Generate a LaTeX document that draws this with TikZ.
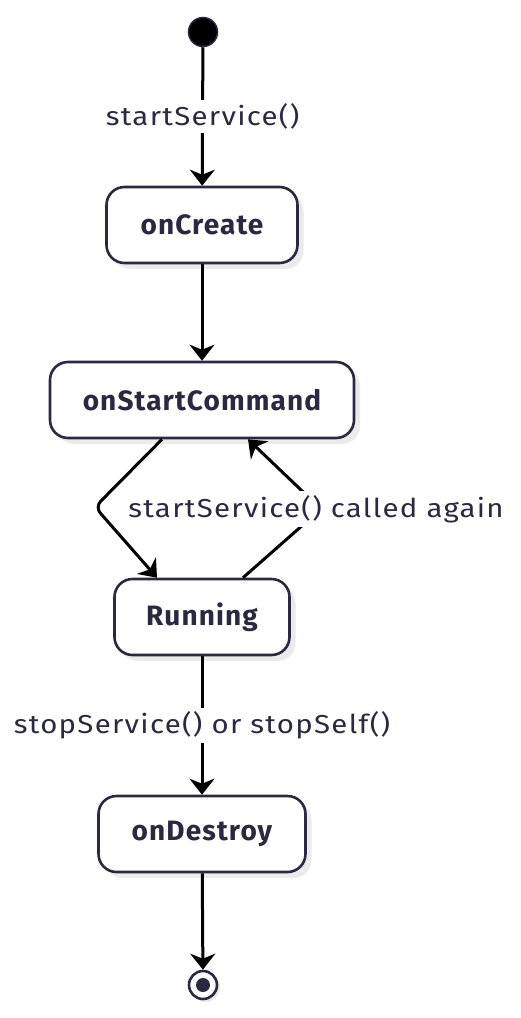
\documentclass[tikz,border=0pt]{standalone}
\usepackage{fontspec}
\setmainfont{Fira Sans}
\newfontfamily\lblfont{Fira Sans}[FakeStretch=1.13,LetterSpace=5]
\newfontfamily\statefont{Fira Sans}[LetterSpace=4]
\usepackage{xcolor}
\usetikzlibrary{arrows.meta,shadows}

\definecolor{ink}{HTML}{2A2940}

\begin{document}
\begin{tikzpicture}[x=1pt,y=-1pt,
  state/.style={draw=ink,line width=2.6pt,rounded corners=18pt,fill=white,text=ink,
    font=\statefont\fontsize{28}{32}\selectfont\bfseries,minimum height=76pt,
    drop shadow={shadow xshift=6pt,shadow yshift=-6pt,fill=black!8,opacity=1}},
  trans/.style={line width=3pt,-{Stealth[length=16pt,width=25pt,inset=5pt]}},
  lbl/.style={fill=white,text=ink,font=\lblfont\fontsize{26}{30}\selectfont,inner sep=4pt}]
\useasboundingbox (0,0) rectangle (520,1018);

% States
\node[circle,fill=black,draw=ink,line width=1.5pt,minimum size=29pt,inner sep=0pt] (init) at (203,32) {};
\node[state,minimum width=191pt] (create) at (202,225) {onCreate};
\node[state,minimum width=304pt] (start) at (202,400) {onStartCommand};
\node[state,minimum width=175pt] (run) at (202,617) {Running};
\node[state,minimum width=207pt] (destroy) at (202,834) {onDestroy};
\node[circle,draw=ink,line width=2.6pt,fill=white,minimum size=28pt,inner sep=0pt,
  drop shadow={shadow xshift=3pt,shadow yshift=-3pt,fill=black!8,opacity=1}] (final) at (203,985) {};
\node[circle,fill=ink,minimum size=14pt,inner sep=0pt] (finaldot) at (final.center) {};

% Bends
\coordinate (bendL) at (95,507);
\coordinate (bendR) at (321,509);

% Transitions
\draw[trans] (init) -- node[lbl] {startService()} (create);
\draw[trans] (create) -- (start);
\draw[trans,rounded corners=8pt] ([xshift=-40pt]start.south) -- (bendL) -- ([xshift=-45pt]run.north);
\draw[trans] ([xshift=41pt]run.north) -- (bendR) node[lbl,xshift=-5pt] {startService() called again} -- ([xshift=46pt]start.south);
\draw[trans] (run) -- node[lbl] {stopService() or stopSelf()} (destroy);
\draw[trans] (destroy) -- (final);
\end{tikzpicture}
\end{document}
